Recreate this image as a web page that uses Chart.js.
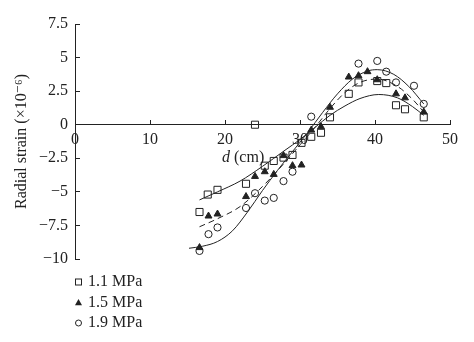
<!DOCTYPE html>
<html><head><meta charset="utf-8">
<script src="https://cdn.jsdelivr.net/npm/chart.js@4/dist/chart.umd.min.js"></script>
<style>html,body{margin:0;padding:0;background:#fff;}</style>
</head><body>
<canvas id="c" width="474" height="342"></canvas>
<script>
// ---- data ----
const seriesNames = ['1.1 MPa', '1.5 MPa', '1.9 MPa'];

const d11 = [16.6, 17.7, 19.0, 22.8, 24.0, 25.3, 26.5, 27.8, 29.0, 30.2, 31.5, 32.8, 34.0, 36.5, 37.8, 40.3, 41.5, 42.8, 44.0, 46.5];
const v11 = [-6.5, -5.2, -4.85, -4.4, 0, -3.05, -2.7, -2.45, -2.25, -1.35, -0.9, -0.6, 0.55, 2.3, 3.15, 3.25, 3.1, 1.45, 1.15, 0.55];

const d15 = [16.6, 17.8, 19.0, 22.8, 24.0, 25.3, 26.5, 27.8, 29.0, 30.2, 31.5, 32.8, 34.0, 36.5, 37.8, 39.0, 40.3, 42.8, 44.0, 46.5];
const v15 = [-9.15, -6.8, -6.65, -5.35, -3.85, -3.5, -3.7, -2.3, -3.05, -3.0, -0.4, -0.15, 1.3, 3.55, 3.65, 3.95, 3.35, 2.3, 2.0, 0.95];

const d19 = [16.6, 17.8, 19.0, 22.8, 24.0, 25.3, 26.5, 27.8, 29.0, 31.5, 37.8, 40.3, 41.5, 42.8, 45.2, 46.5];
const v19 = [-9.4, -8.15, -7.65, -6.2, -5.1, -5.65, -5.45, -4.2, -3.5, 0.6, 4.55, 4.75, 3.95, 3.15, 2.9, 1.55];

// fitted trend curves
const fit11d = [16.6, 19, 22, 25, 28, 30, 32, 34, 36, 38, 40.5, 43, 45, 46.5];
const fit11v = [-5.6, -5.0, -4.2, -3.1, -1.9, -1.1, -0.2, 0.7, 1.4, 1.95, 2.25, 2.0, 1.35, 0.7];
const fit15d = [16.6, 19, 22, 25, 28, 30, 32, 34, 36, 38, 40.3, 43, 45, 46.5];
const fit15v = [-7.6, -7.0, -6.1, -4.6, -2.8, -1.5, -0.2, 1.2, 2.4, 3.15, 3.4, 2.85, 1.9, 0.95];
const fit19d = [15.2, 17, 19, 21, 23, 25, 27, 29, 31, 33, 35, 37, 39, 40.3, 42.5, 44.5, 46.5];
const fit19v = [-9.2, -9.05, -8.7, -7.9, -6.5, -4.9, -3.4, -2.0, -0.6, 0.9, 2.3, 3.4, 4.0, 4.1, 3.75, 2.85, 1.55];

const xTicks = [0, 10, 20, 30, 40, 50];
const yTicks = [7.5, 5, 2.5, 0, -2.5, -5, -7.5, -10];
const xTitle = ['d', ' (cm)'];
const yTitle = 'Radial strain (×10⁻⁶)';

// ---- build ----
const pts = (xs, ys) => xs.map((x, i) => ({x: x, y: ys[i]}));
const FONT = '"Liberation Serif", "DejaVu Serif", serif';
const INK = '#222';

const markerStyles = [
  {pointStyle: 'rect', radius: 5, fill: 'rgba(0,0,0,0)'},
  {pointStyle: 'triangle', radius: 4, fill: INK},
  {pointStyle: 'circle', radius: 3.6, fill: 'rgba(0,0,0,0)'}
];

function scatterSet(label, xs, ys, m) {
  return {label: label, data: pts(xs, ys), showLine: false,
    pointStyle: m.pointStyle, pointRadius: m.radius, pointHoverRadius: m.radius,
    pointBorderColor: INK, pointBackgroundColor: m.fill, pointBorderWidth: 1, order: 1};
}
function lineSet(xs, ys, dash) {
  return {label: '', data: pts(xs, ys), showLine: true, pointRadius: 0,
    borderColor: INK, borderWidth: 1, borderDash: dash, fill: false,
    cubicInterpolationMode: 'monotone', order: 2};
}

const legendPlugin = {
  id: 'customLegend',
  afterDraw(chart) {
    const ctx = chart.ctx;
    ctx.save();
    ctx.font = '16px ' + FONT;
    ctx.fillStyle = INK;
    ctx.textBaseline = 'middle';
    const y0 = 282, gap = 20.5, mx = 78.5, tx = 88;
    seriesNames.forEach((name, i) => {
      const y = y0 + i * gap;
      ctx.strokeStyle = INK; ctx.lineWidth = 1; ctx.fillStyle = INK;
      if (i === 0) { ctx.strokeRect(mx - 3, y - 3, 6, 6); }
      else if (i === 1) { ctx.beginPath(); ctx.moveTo(mx, y - 3.5); ctx.lineTo(mx + 3.5, y + 2.8); ctx.lineTo(mx - 3.5, y + 2.8); ctx.closePath(); ctx.fill(); }
      else { ctx.beginPath(); ctx.arc(mx, y, 3, 0, Math.PI * 2); ctx.stroke(); }
      ctx.fillStyle = INK;
      ctx.textAlign = 'left';
      ctx.fillText(name, tx, y);
    });
    // x axis title inside plot
    const xs = chart.scales.x, ys = chart.scales.y;
    const px = xs.getPixelForValue(19.6), py = ys.getPixelForValue(-2.47);
    ctx.font = 'italic 16px ' + FONT;
    ctx.fillText(xTitle[0], px, py);
    const w = ctx.measureText(xTitle[0]).width;
    ctx.font = '16px ' + FONT;
    ctx.fillText(xTitle[1], px + w, py);
    ctx.restore();
  }
};

new Chart(document.getElementById('c'), {
  type: 'scatter',
  data: {datasets: [
    lineSet(fit11d, fit11v, []),
    lineSet(fit15d, fit15v, [6, 4]),
    lineSet(fit19d, fit19v, []),
    scatterSet(seriesNames[0], d11, v11, markerStyles[0]),
    scatterSet(seriesNames[1], d15, v15, markerStyles[1]),
    scatterSet(seriesNames[2], d19, v19, markerStyles[2])
  ]},
  options: {
    responsive: false, animation: false, devicePixelRatio: 1,
    layout: {padding: {left: 0, right: 24, top: 24, bottom: 83}},
    plugins: {legend: {display: false}, tooltip: {enabled: false}},
    scales: {
      x: {
        type: 'linear', min: 0, max: 50, position: {y: 0},
        afterBuildTicks: s => { s.ticks = xTicks.map(v => ({value: v})); },
        afterFit: s => { s.height = 0; },
        grid: {display: true, drawOnChartArea: false, drawTicks: true, tickLength: -5, color: INK, lineWidth: 1},
        border: {display: true, color: INK, width: 1},
        ticks: {color: INK, font: {family: FONT, size: 16}, padding: 10, maxRotation: 0}
      },
      y: {
        type: 'linear', min: -10, max: 7.5, position: 'left',
        afterBuildTicks: s => { s.ticks = yTicks.map(v => ({value: v})); },
        afterFit: s => { s.width = 75; },
        grid: {display: true, drawOnChartArea: false, drawTicks: true, tickLength: -5, color: INK, lineWidth: 1},
        border: {display: true, color: INK, width: 1},
        ticks: {color: INK, font: {family: FONT, size: 16}, padding: 12,
          callback: v => String(v).replace('-', '\u2212')},
        title: {display: true, text: yTitle, color: INK, font: {family: FONT, size: 16}, padding: {top: 12, bottom: 0}}
      }
    }
  },
  plugins: [legendPlugin]
});
</script>
</body></html>
